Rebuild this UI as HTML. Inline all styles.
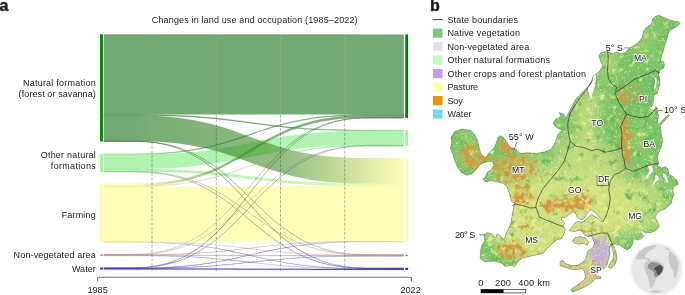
<!DOCTYPE html>
<html lang="en"><head><meta charset="utf-8"><title>Land use change</title>
<style>html,body{margin:0;padding:0;background:#fff}svg{display:block}</style></head>
<body>
<svg width="685" height="295" viewBox="0 0 685 295" font-family='"Liberation Sans", sans-serif' fill="#1a1a1a">
<rect width="685" height="295" fill="#fff"/>
<g id="sankey"><defs><linearGradient id="g4" gradientUnits="userSpaceOnUse" x1="135" x2="403.8" y1="0" y2="0"><stop offset="0" stop-color="rgb(0,100,0)" stop-opacity="0.55"/><stop offset="0.55" stop-color="rgb(64,139,35)" stop-opacity="0.57"/><stop offset="1" stop-color="rgb(255,255,140)" stop-opacity="0.62"/></linearGradient><linearGradient id="s4" gradientUnits="userSpaceOnUse" x1="135" x2="403.8" y1="0" y2="0"><stop offset="0" stop-color="rgb(20,60,20)"/><stop offset="1" stop-color="rgb(190,190,140)"/></linearGradient><linearGradient id="g5" gradientUnits="userSpaceOnUse" x1="135" x2="403.8" y1="0" y2="0"><stop offset="0" stop-color="rgb(144,238,144)" stop-opacity="0.70"/><stop offset="0.55" stop-color="rgb(172,242,143)" stop-opacity="0.68"/><stop offset="1" stop-color="rgb(255,255,140)" stop-opacity="0.62"/></linearGradient><linearGradient id="s5" gradientUnits="userSpaceOnUse" x1="135" x2="403.8" y1="0" y2="0"><stop offset="0" stop-color="rgb(90,150,90)"/><stop offset="1" stop-color="rgb(190,190,140)"/></linearGradient><linearGradient id="g6" gradientUnits="userSpaceOnUse" x1="135" x2="403.8" y1="0" y2="0"><stop offset="0" stop-color="rgb(255,255,140)" stop-opacity="0.62"/><stop offset="0.32" stop-color="rgb(71,143,39)" stop-opacity="0.57"/><stop offset="1" stop-color="rgb(0,100,0)" stop-opacity="0.55"/></linearGradient><linearGradient id="s6" gradientUnits="userSpaceOnUse" x1="135" x2="403.8" y1="0" y2="0"><stop offset="0" stop-color="rgb(190,190,140)"/><stop offset="1" stop-color="rgb(20,60,20)"/></linearGradient><linearGradient id="g7" gradientUnits="userSpaceOnUse" x1="135" x2="403.8" y1="0" y2="0"><stop offset="0" stop-color="rgb(0,100,0)" stop-opacity="0.55"/><stop offset="0.55" stop-color="rgb(36,134,36)" stop-opacity="0.59"/><stop offset="1" stop-color="rgb(144,238,144)" stop-opacity="0.70"/></linearGradient><linearGradient id="s7" gradientUnits="userSpaceOnUse" x1="135" x2="403.8" y1="0" y2="0"><stop offset="0" stop-color="rgb(20,60,20)"/><stop offset="1" stop-color="rgb(90,150,90)"/></linearGradient><linearGradient id="g9" gradientUnits="userSpaceOnUse" x1="135" x2="403.8" y1="0" y2="0"><stop offset="0" stop-color="rgb(144,238,144)" stop-opacity="0.70"/><stop offset="0.32" stop-color="rgb(40,139,40)" stop-opacity="0.59"/><stop offset="1" stop-color="rgb(0,100,0)" stop-opacity="0.55"/></linearGradient><linearGradient id="s9" gradientUnits="userSpaceOnUse" x1="135" x2="403.8" y1="0" y2="0"><stop offset="0" stop-color="rgb(90,150,90)"/><stop offset="1" stop-color="rgb(20,60,20)"/></linearGradient><linearGradient id="g10" gradientUnits="userSpaceOnUse" x1="135" x2="403.8" y1="0" y2="0"><stop offset="0" stop-color="rgb(255,255,140)" stop-opacity="0.62"/><stop offset="0.32" stop-color="rgb(175,243,143)" stop-opacity="0.68"/><stop offset="1" stop-color="rgb(144,238,144)" stop-opacity="0.70"/></linearGradient><linearGradient id="s10" gradientUnits="userSpaceOnUse" x1="135" x2="403.8" y1="0" y2="0"><stop offset="0" stop-color="rgb(190,190,140)"/><stop offset="1" stop-color="rgb(90,150,90)"/></linearGradient><linearGradient id="g11" gradientUnits="userSpaceOnUse" x1="135" x2="403.8" y1="0" y2="0"><stop offset="0" stop-color="rgb(188,143,143)" stop-opacity="0.70"/><stop offset="0.55" stop-color="rgb(205,171,142)" stop-opacity="0.68"/><stop offset="1" stop-color="rgb(255,255,140)" stop-opacity="0.62"/></linearGradient><linearGradient id="s11" gradientUnits="userSpaceOnUse" x1="135" x2="403.8" y1="0" y2="0"><stop offset="0" stop-color="rgb(170,120,120)"/><stop offset="1" stop-color="rgb(190,190,140)"/></linearGradient><linearGradient id="g13" gradientUnits="userSpaceOnUse" x1="135" x2="403.8" y1="0" y2="0"><stop offset="0" stop-color="rgb(255,255,140)" stop-opacity="0.62"/><stop offset="0.32" stop-color="rgb(207,174,142)" stop-opacity="0.68"/><stop offset="1" stop-color="rgb(188,143,143)" stop-opacity="0.70"/></linearGradient><linearGradient id="s13" gradientUnits="userSpaceOnUse" x1="135" x2="403.8" y1="0" y2="0"><stop offset="0" stop-color="rgb(190,190,140)"/><stop offset="1" stop-color="rgb(170,120,120)"/></linearGradient><linearGradient id="g14" gradientUnits="userSpaceOnUse" x1="135" x2="403.8" y1="0" y2="0"><stop offset="0" stop-color="rgb(20,20,200)" stop-opacity="0.70"/><stop offset="0.55" stop-color="rgb(79,79,185)" stop-opacity="0.68"/><stop offset="1" stop-color="rgb(255,255,140)" stop-opacity="0.62"/></linearGradient><linearGradient id="s14" gradientUnits="userSpaceOnUse" x1="135" x2="403.8" y1="0" y2="0"><stop offset="0" stop-color="rgb(40,40,150)"/><stop offset="1" stop-color="rgb(190,190,140)"/></linearGradient><linearGradient id="g15" gradientUnits="userSpaceOnUse" x1="135" x2="403.8" y1="0" y2="0"><stop offset="0" stop-color="rgb(144,238,144)" stop-opacity="0.70"/><stop offset="0.32" stop-color="rgb(176,170,143)" stop-opacity="0.70"/><stop offset="1" stop-color="rgb(188,143,143)" stop-opacity="0.70"/></linearGradient><linearGradient id="s15" gradientUnits="userSpaceOnUse" x1="135" x2="403.8" y1="0" y2="0"><stop offset="0" stop-color="rgb(90,150,90)"/><stop offset="1" stop-color="rgb(170,120,120)"/></linearGradient><linearGradient id="g16" gradientUnits="userSpaceOnUse" x1="135" x2="403.8" y1="0" y2="0"><stop offset="0" stop-color="rgb(144,238,144)" stop-opacity="0.70"/><stop offset="0.32" stop-color="rgb(55,81,184)" stop-opacity="0.70"/><stop offset="1" stop-color="rgb(20,20,200)" stop-opacity="0.70"/></linearGradient><linearGradient id="s16" gradientUnits="userSpaceOnUse" x1="135" x2="403.8" y1="0" y2="0"><stop offset="0" stop-color="rgb(90,150,90)"/><stop offset="1" stop-color="rgb(40,40,150)"/></linearGradient><linearGradient id="g17" gradientUnits="userSpaceOnUse" x1="135" x2="403.8" y1="0" y2="0"><stop offset="0" stop-color="rgb(255,255,140)" stop-opacity="0.62"/><stop offset="0.32" stop-color="rgb(86,86,183)" stop-opacity="0.68"/><stop offset="1" stop-color="rgb(20,20,200)" stop-opacity="0.70"/></linearGradient><linearGradient id="s17" gradientUnits="userSpaceOnUse" x1="135" x2="403.8" y1="0" y2="0"><stop offset="0" stop-color="rgb(190,190,140)"/><stop offset="1" stop-color="rgb(40,40,150)"/></linearGradient><linearGradient id="g18" gradientUnits="userSpaceOnUse" x1="135" x2="403.8" y1="0" y2="0"><stop offset="0" stop-color="rgb(0,100,0)" stop-opacity="0.55"/><stop offset="0.55" stop-color="rgb(47,111,36)" stop-opacity="0.59"/><stop offset="1" stop-color="rgb(188,143,143)" stop-opacity="0.70"/></linearGradient><linearGradient id="s18" gradientUnits="userSpaceOnUse" x1="135" x2="403.8" y1="0" y2="0"><stop offset="0" stop-color="rgb(20,60,20)"/><stop offset="1" stop-color="rgb(170,120,120)"/></linearGradient><linearGradient id="g19" gradientUnits="userSpaceOnUse" x1="135" x2="403.8" y1="0" y2="0"><stop offset="0" stop-color="rgb(0,100,0)" stop-opacity="0.55"/><stop offset="0.50" stop-color="rgb(10,60,100)" stop-opacity="0.62"/><stop offset="1" stop-color="rgb(20,20,200)" stop-opacity="0.70"/></linearGradient><linearGradient id="s19" gradientUnits="userSpaceOnUse" x1="135" x2="403.8" y1="0" y2="0"><stop offset="0" stop-color="rgb(20,60,20)"/><stop offset="1" stop-color="rgb(40,40,150)"/></linearGradient><linearGradient id="g20" gradientUnits="userSpaceOnUse" x1="135" x2="403.8" y1="0" y2="0"><stop offset="0" stop-color="rgb(188,143,143)" stop-opacity="0.70"/><stop offset="0.32" stop-color="rgb(53,112,40)" stop-opacity="0.59"/><stop offset="1" stop-color="rgb(0,100,0)" stop-opacity="0.55"/></linearGradient><linearGradient id="s20" gradientUnits="userSpaceOnUse" x1="135" x2="403.8" y1="0" y2="0"><stop offset="0" stop-color="rgb(170,120,120)"/><stop offset="1" stop-color="rgb(20,60,20)"/></linearGradient><linearGradient id="g21" gradientUnits="userSpaceOnUse" x1="135" x2="403.8" y1="0" y2="0"><stop offset="0" stop-color="rgb(188,143,143)" stop-opacity="0.70"/><stop offset="0.55" stop-color="rgb(177,167,143)" stop-opacity="0.70"/><stop offset="1" stop-color="rgb(144,238,144)" stop-opacity="0.70"/></linearGradient><linearGradient id="s21" gradientUnits="userSpaceOnUse" x1="135" x2="403.8" y1="0" y2="0"><stop offset="0" stop-color="rgb(170,120,120)"/><stop offset="1" stop-color="rgb(90,150,90)"/></linearGradient><linearGradient id="g22" gradientUnits="userSpaceOnUse" x1="135" x2="403.8" y1="0" y2="0"><stop offset="0" stop-color="rgb(188,143,143)" stop-opacity="0.70"/><stop offset="0.32" stop-color="rgb(67,54,184)" stop-opacity="0.70"/><stop offset="1" stop-color="rgb(20,20,200)" stop-opacity="0.70"/></linearGradient><linearGradient id="s22" gradientUnits="userSpaceOnUse" x1="135" x2="403.8" y1="0" y2="0"><stop offset="0" stop-color="rgb(170,120,120)"/><stop offset="1" stop-color="rgb(40,40,150)"/></linearGradient><linearGradient id="g23" gradientUnits="userSpaceOnUse" x1="135" x2="403.8" y1="0" y2="0"><stop offset="0" stop-color="rgb(20,20,200)" stop-opacity="0.70"/><stop offset="0.50" stop-color="rgb(10,60,100)" stop-opacity="0.62"/><stop offset="1" stop-color="rgb(0,100,0)" stop-opacity="0.55"/></linearGradient><linearGradient id="s23" gradientUnits="userSpaceOnUse" x1="135" x2="403.8" y1="0" y2="0"><stop offset="0" stop-color="rgb(40,40,150)"/><stop offset="1" stop-color="rgb(20,60,20)"/></linearGradient><linearGradient id="g24" gradientUnits="userSpaceOnUse" x1="135" x2="403.8" y1="0" y2="0"><stop offset="0" stop-color="rgb(20,20,200)" stop-opacity="0.70"/><stop offset="0.55" stop-color="rgb(51,74,186)" stop-opacity="0.70"/><stop offset="1" stop-color="rgb(144,238,144)" stop-opacity="0.70"/></linearGradient><linearGradient id="s24" gradientUnits="userSpaceOnUse" x1="135" x2="403.8" y1="0" y2="0"><stop offset="0" stop-color="rgb(40,40,150)"/><stop offset="1" stop-color="rgb(90,150,90)"/></linearGradient><linearGradient id="g25" gradientUnits="userSpaceOnUse" x1="135" x2="403.8" y1="0" y2="0"><stop offset="0" stop-color="rgb(20,20,200)" stop-opacity="0.70"/><stop offset="0.55" stop-color="rgb(62,51,186)" stop-opacity="0.70"/><stop offset="1" stop-color="rgb(188,143,143)" stop-opacity="0.70"/></linearGradient><linearGradient id="s25" gradientUnits="userSpaceOnUse" x1="135" x2="403.8" y1="0" y2="0"><stop offset="0" stop-color="rgb(40,40,150)"/><stop offset="1" stop-color="rgb(170,120,120)"/></linearGradient></defs>
<path d="M103.8 34.30 L135 34.30 C250 34.30 250 34.40 365 34.40 L403.8 34.40 L403.8 114.50 L365 114.50 C250 114.50 250 114.40 135 114.40 L103.8 114.40Z" fill="rgb(0,100,0)" fill-opacity="0.55"/>
<path d="M103.8 186.70 L135 186.70 C250 186.70 250 186.10 365 186.10 L403.8 186.10 L403.8 241.10 L365 241.10 C250 241.10 250 241.70 135 241.70 L103.8 241.70Z" fill="rgb(255,255,140)" fill-opacity="0.62"/>
<path d="M103.8 154.60 L135 154.60 C250 154.60 250 130.90 365 130.90 L403.8 130.90 L403.8 145.20 L365 145.20 C250 145.20 250 168.90 135 168.90 L103.8 168.90Z" fill="rgb(144,238,144)" fill-opacity="0.70"/>
<path d="M103.8 115.40 L135 115.40 C250 115.40 250 158.00 365 158.00 L403.8 158.00 L403.8 183.60 L365 183.60 C250 183.60 250 141.00 135 141.00 L103.8 141.00Z" fill="url(#g4)" fill-opacity="1.00" stroke="url(#s4)" stroke-opacity="0.25" stroke-width="0.3"/>
<path d="M103.8 168.90 L135 168.90 C250 168.90 250 183.60 365 183.60 L403.8 183.60 L403.8 186.10 L365 186.10 C250 186.10 250 171.40 135 171.40 L103.8 171.40Z" fill="url(#g5)" fill-opacity="1.00" stroke="url(#s5)" stroke-opacity="0.25" stroke-width="0.3"/>
<path d="M103.8 183.70 L135 183.70 C250 183.70 250 115.30 365 115.30 L403.8 115.30 L403.8 117.80 L365 117.80 C250 117.80 250 186.20 135 186.20 L103.8 186.20Z" fill="url(#g6)" fill-opacity="1.00" stroke="url(#s6)" stroke-opacity="0.25" stroke-width="0.3"/>
<path d="M103.8 114.40 L135 114.40 C250 114.40 250 129.90 365 129.90 L403.8 129.90 L403.8 130.90 L365 130.90 C250 130.90 250 115.40 135 115.40 L103.8 115.40Z" fill="url(#g7)" fill-opacity="1.00" stroke="url(#s7)" stroke-opacity="0.5" stroke-width="0.35"/>
<path d="M103.8 268.55 L135 268.55 C250 268.55 250 268.90 365 268.90 L403.8 268.90 L403.8 269.90 L365 269.90 C250 269.90 250 269.55 135 269.55 L103.8 269.55Z" fill="rgb(20,20,200)" fill-opacity="0.70" stroke="rgb(40,40,150)" stroke-opacity="0.5" stroke-width="0.35"/>
<path d="M103.8 153.80 L135 153.80 C250 153.80 250 114.50 365 114.50 L403.8 114.50 L403.8 115.30 L365 115.30 C250 115.30 250 154.60 135 154.60 L103.8 154.60Z" fill="url(#g9)" fill-opacity="1.00" stroke="url(#s9)" stroke-opacity="0.5" stroke-width="0.35"/>
<path d="M103.8 186.20 L135 186.20 C250 186.20 250 145.20 365 145.20 L403.8 145.20 L403.8 145.70 L365 145.70 C250 145.70 250 186.70 135 186.70 L103.8 186.70Z" fill="url(#g10)" fill-opacity="1.00" stroke="url(#s10)" stroke-opacity="0.5" stroke-width="0.35"/>
<path d="M103.8 254.60 L135 254.60 C250 254.60 250 241.10 365 241.10 L403.8 241.10 L403.8 241.60 L365 241.60 C250 241.60 250 255.10 135 255.10 L103.8 255.10Z" fill="url(#g11)" fill-opacity="1.00" stroke="url(#s11)" stroke-opacity="0.5" stroke-width="0.35"/>
<path d="M103.8 255.10 L135 255.10 C250 255.10 250 255.55 365 255.55 L403.8 255.55 L403.8 256.05 L365 256.05 C250 256.05 250 255.60 135 255.60 L103.8 255.60Z" fill="rgb(188,143,143)" fill-opacity="0.70" stroke="rgb(170,120,120)" stroke-opacity="0.5" stroke-width="0.35"/>
<path d="M103.8 241.70 L135 241.70 C250 241.70 250 255.15 365 255.15 L403.8 255.15 L403.8 255.55 L365 255.55 C250 255.55 250 242.10 135 242.10 L103.8 242.10Z" fill="url(#g13)" fill-opacity="1.00" stroke="url(#s13)" stroke-opacity="0.5" stroke-width="0.35"/>
<path d="M103.8 268.00 L135 268.00 C250 268.00 250 241.60 365 241.60 L403.8 241.60 L403.8 242.00 L365 242.00 C250 242.00 250 268.40 135 268.40 L103.8 268.40Z" fill="url(#g14)" fill-opacity="1.00" stroke="url(#s14)" stroke-opacity="0.5" stroke-width="0.35"/>
<path d="M103.8 171.40 L135 171.40 C250 171.40 250 254.85 365 254.85 L403.8 254.85 L403.8 255.15 L365 255.15 C250 255.15 250 171.70 135 171.70 L103.8 171.70Z" fill="url(#g15)" fill-opacity="1.00" stroke="url(#s15)" stroke-opacity="0.5" stroke-width="0.35"/>
<path d="M103.8 171.70 L135 171.70 C250 171.70 250 268.15 365 268.15 L403.8 268.15 L403.8 268.45 L365 268.45 C250 268.45 250 172.00 135 172.00 L103.8 172.00Z" fill="url(#g16)" fill-opacity="1.00" stroke="url(#s16)" stroke-opacity="0.5" stroke-width="0.35"/>
<path d="M103.8 242.10 L135 242.10 C250 242.10 250 268.45 365 268.45 L403.8 268.45 L403.8 268.75 L365 268.75 C250 268.75 250 242.40 135 242.40 L103.8 242.40Z" fill="url(#g17)" fill-opacity="1.00" stroke="url(#s17)" stroke-opacity="0.5" stroke-width="0.35"/>
<path d="M103.8 141.00 L135 141.00 C250 141.00 250 254.60 365 254.60 L403.8 254.60 L403.8 254.85 L365 254.85 C250 254.85 250 141.25 135 141.25 L103.8 141.25Z" fill="url(#g18)" fill-opacity="1.00" stroke="url(#s18)" stroke-opacity="0.5" stroke-width="0.35"/>
<path d="M103.8 141.25 L135 141.25 C250 141.25 250 267.90 365 267.90 L403.8 267.90 L403.8 268.15 L365 268.15 C250 268.15 250 141.50 135 141.50 L103.8 141.50Z" fill="url(#g19)" fill-opacity="1.00" stroke="url(#s19)" stroke-opacity="0.5" stroke-width="0.35"/>
<path d="M103.8 254.30 L135 254.30 C250 254.30 250 117.80 365 117.80 L403.8 117.80 L403.8 117.95 L365 117.95 C250 117.95 250 254.45 135 254.45 L103.8 254.45Z" fill="url(#g20)" fill-opacity="1.00" stroke="url(#s20)" stroke-opacity="0.5" stroke-width="0.35"/>
<path d="M103.8 254.45 L135 254.45 C250 254.45 250 145.70 365 145.70 L403.8 145.70 L403.8 145.85 L365 145.85 C250 145.85 250 254.60 135 254.60 L103.8 254.60Z" fill="url(#g21)" fill-opacity="1.00" stroke="url(#s21)" stroke-opacity="0.5" stroke-width="0.35"/>
<path d="M103.8 255.60 L135 255.60 C250 255.60 250 268.75 365 268.75 L403.8 268.75 L403.8 268.90 L365 268.90 C250 268.90 250 255.75 135 255.75 L103.8 255.75Z" fill="url(#g22)" fill-opacity="1.00" stroke="url(#s22)" stroke-opacity="0.5" stroke-width="0.35"/>
<path d="M103.8 267.70 L135 267.70 C250 267.70 250 117.95 365 117.95 L403.8 117.95 L403.8 118.10 L365 118.10 C250 118.10 250 267.85 135 267.85 L103.8 267.85Z" fill="url(#g23)" fill-opacity="1.00" stroke="url(#s23)" stroke-opacity="0.5" stroke-width="0.35"/>
<path d="M103.8 267.85 L135 267.85 C250 267.85 250 145.85 365 145.85 L403.8 145.85 L403.8 146.00 L365 146.00 C250 146.00 250 268.00 135 268.00 L103.8 268.00Z" fill="url(#g24)" fill-opacity="1.00" stroke="url(#s24)" stroke-opacity="0.5" stroke-width="0.35"/>
<path d="M103.8 268.40 L135 268.40 C250 268.40 250 256.05 365 256.05 L403.8 256.05 L403.8 256.20 L365 256.20 C250 256.20 250 268.55 135 268.55 L103.8 268.55Z" fill="url(#g25)" fill-opacity="1.00" stroke="url(#s25)" stroke-opacity="0.5" stroke-width="0.35"/>
<line x1="152" x2="152" y1="141.5" y2="272" stroke="#444" stroke-opacity="0.8" stroke-width="0.5" stroke-dasharray="3 1.5"/>
<line x1="152" x2="152" y1="34.5" y2="141.5" stroke="#fff" stroke-opacity="0.12" stroke-width="0.5"/>
<line x1="216.3" x2="216.3" y1="114.8" y2="272" stroke="#444" stroke-opacity="0.8" stroke-width="0.5" stroke-dasharray="3 1.5"/>
<line x1="216.3" x2="216.3" y1="34.5" y2="114.8" stroke="#fff" stroke-opacity="0.12" stroke-width="0.5"/>
<line x1="280.5" x2="280.5" y1="114.8" y2="272" stroke="#444" stroke-opacity="0.8" stroke-width="0.5" stroke-dasharray="3 1.5"/>
<line x1="280.5" x2="280.5" y1="34.5" y2="114.8" stroke="#fff" stroke-opacity="0.12" stroke-width="0.5"/>
<line x1="344.7" x2="344.7" y1="114.8" y2="272" stroke="#444" stroke-opacity="0.8" stroke-width="0.5" stroke-dasharray="3 1.5"/>
<line x1="344.7" x2="344.7" y1="34.5" y2="114.8" stroke="#fff" stroke-opacity="0.12" stroke-width="0.5"/>
<rect x="100.1" y="34.30" width="2.8" height="107.20" fill="rgb(0,128,0)"/>
<rect x="405.3" y="34.40" width="2.8" height="83.70" fill="rgb(0,128,0)"/>
<rect x="100.1" y="153.80" width="2.8" height="18.20" fill="rgb(160,240,160)"/>
<rect x="405.3" y="129.90" width="2.8" height="16.10" fill="rgb(160,240,160)"/>
<rect x="100.1" y="183.70" width="2.8" height="58.70" fill="rgb(255,255,160)"/>
<rect x="405.3" y="158.00" width="2.8" height="84.00" fill="rgb(255,255,160)"/>
<rect x="100.1" y="254.30" width="2.8" height="1.45" fill="rgb(190,130,130)"/>
<rect x="405.3" y="254.60" width="2.8" height="1.60" fill="rgb(190,130,130)"/>
<rect x="100.1" y="267.70" width="2.8" height="1.85" fill="rgb(30,30,200)"/>
<rect x="405.3" y="267.90" width="2.8" height="2.00" fill="rgb(30,30,200)"/>
<path d="M97.6 281.3V277.3H411.5V281.3" fill="none" stroke="#333" stroke-width="0.7"/></g>
<defs><clipPath id="biome"><path d="M651.4 24.3 L652.5 19.2 L655.5 16.2 L658.6 15.2 L662.6 16.8 L667.7 19.2 L674.8 21.3 L678.9 21.7 L680.3 23.3 L676.9 26.4 L673.8 28.4 L669.7 30.4 L668.1 34.5 L666.7 40.6 L664.7 44.7 L663.6 50.8 L661.6 55.8 L660.6 61.9 L662.6 61.1 L664.7 64.2 L663.6 68.2 L659.6 70.3 L658.6 74.3 L659.6 77.4 L660.0 83.5 L658.6 88.6 L657.1 93.6 L653.5 95.7 L653.5 100.8 L652.5 105.8 L649.4 107.9 L651.4 110.3 L654.5 109.9 L655.9 106.4 L657.4 108.0 L657.6 112.2 L658.6 116.1 L657.5 122.2 L658.6 124.2 L668.3 114.8 L669.3 115.7 L660.0 126.0 L660.6 127.3 L661.2 134.4 L662.6 140.5 L661.6 146.6 L659.6 150.7 L657.5 156.8 L658.6 162.9 L657.5 165.9 L661.6 168.1 L665.7 166.5 L668.1 169.2 L668.7 174.2 L672.8 176.3 L676.9 180.3 L678.3 184.4 L673.8 186.4 L672.8 190.5 L673.8 195.6 L671.8 199.7 L671.7 203.1 L668.2 206.2 L665.1 209.2 L661.1 210.3 L657.0 213.3 L655.0 217.4 L658.0 222.5 L659.0 226.6 L656.0 230.6 L650.9 232.7 L645.8 232.7 L641.7 230.6 L639.7 231.6 L643.8 235.7 L641.7 238.8 L637.7 239.8 L633.6 238.8 L632.6 243.9 L630.5 247.9 L627.5 250.0 L623.4 247.9 L619.3 244.9 L615.3 243.9 L612.5 244.7 L610.9 244.2 L609.5 249.2 L609.9 254.3 L608.3 259.4 L606.9 265.5 L603.8 268.6 L598.7 267.8 L596.0 266.5 L594.7 271.6 L595.7 275.7 L600.8 276.7 L600.8 278.7 L595.7 278.7 L592.6 281.8 L588.6 284.8 L583.5 287.5 L577.4 290.3 L572.3 291.9 L570.9 289.5 L574.3 286.9 L579.4 283.8 L583.5 280.8 L585.5 276.7 L584.5 271.6 L582.5 268.6 L577.4 269.6 L571.3 269.2 L565.2 267.5 L560.1 265.5 L560.1 261.4 L563.1 260.4 L565.2 263.5 L571.3 265.5 L577.4 265.5 L582.5 262.5 L585.5 259.4 L586.5 256.4 L587.5 251.3 L592.6 248.2 L594.7 243.1 L591.6 236.5 L591.4 235.6 L588.1 236.4 L584.5 235.0 L582.9 232.5 L580.2 230.0 L574.8 231.5 L569.3 230.8 L572.1 227.1 L574.8 223.1 L577.5 221.4 L581.6 222.2 L585.6 220.0 L588.9 216.9 L591.4 214.6 L594.0 216.1 L597.4 217.8 L601.0 221.3 L603.0 221.6 L601.6 219.8 L598.2 216.1 L594.8 211.9 L591.4 209.8 L588.9 211.0 L586.4 214.4 L584.3 218.0 L582.2 220.0 L579.5 218.8 L576.8 217.0 L575.5 212.9 L572.7 211.9 L569.3 214.2 L565.3 217.6 L561.5 217.0 L561.9 220.4 L564.6 223.1 L563.2 226.5 L565.5 229.2 L563.9 233.9 L561.5 238.5 L556.7 240.0 L551.3 244.5 L547.2 248.5 L543.0 253.5 L532.3 255.7 L521.5 258.4 L517.4 262.4 L514.7 266.5 L511.1 265.2 L505.2 266.5 L501.1 263.0 L494.3 261.1 L484.8 261.9 L480.2 258.4 L480.7 250.2 L482.1 244.8 L484.8 240.7 L484.0 234.8 L487.5 232.6 L491.6 233.9 L495.7 238.0 L497.0 233.9 L499.7 235.3 L503.8 239.4 L506.5 232.6 L510.6 224.4 L512.0 216.3 L513.3 209.5 L514.7 203.0 L512.5 202.0 L511.4 200.9 L509.5 194.2 L507.4 187.4 L503.3 183.3 L497.9 182.0 L491.1 180.6 L485.7 182.0 L483.0 179.2 L485.7 176.5 L487.0 172.5 L491.1 169.7 L493.8 165.7 L492.5 161.6 L488.4 161.6 L483.0 163.0 L478.9 165.7 L476.2 169.7 L472.1 173.8 L466.7 175.2 L461.3 172.5 L457.2 167.0 L454.5 160.3 L452.6 153.5 L450.4 148.1 L451.8 142.6 L451.0 137.2 L454.5 131.8 L461.3 129.1 L470.8 130.4 L474.8 134.5 L477.5 139.9 L478.9 146.7 L480.3 152.1 L483.0 156.2 L485.7 157.5 L489.7 152.1 L493.8 148.1 L496.5 142.6 L497.9 137.2 L500.6 135.8 L503.3 137.2 L506.0 141.3 L508.7 145.3 L511.4 148.1 L513.1 147.9 L515.8 149.2 L519.9 153.3 L528.0 152.8 L536.2 153.3 L544.3 152.0 L551.1 149.2 L555.2 142.4 L557.9 134.3 L562.0 130.2 L556.5 127.5 L553.0 123.4 L555.2 119.4 L561.1 116.7 L559.2 112.6 L563.3 114.0 L566.0 118.0 L570.0 110.0 L575.0 100.0 L586.4 88.1 L591.0 84.0 L593.0 76.0 L596.8 73.6 L599.8 70.5 L602.9 65.9 L600.7 61.4 L598.9 55.3 L601.4 52.2 L607.5 51.6 L612.0 53.7 L616.6 52.2 L621.2 53.7 L625.0 52.8 L630.1 47.7 L634.2 45.7 L638.2 42.6 L642.3 37.5 L643.3 31.4 L646.4 27.4ZM572.3 241.1 L575.3 237.4 L580.4 236.6 L585.5 238.1 L588.6 242.1 L587.5 245.2 L583.5 243.5 L578.4 244.2 L574.3 243.1ZM610.9 244.2 L614.0 246.2 L616.0 252.3 L617.0 258.4 L615.0 264.5 L610.9 268.6 L608.3 267.5 L609.9 263.5 L613.0 259.4 L613.6 254.3 L612.4 249.2Z"/></clipPath>
<filter id="fPast" filterUnits="userSpaceOnUse" x="440" y="0" width="245" height="295" color-interpolation-filters="sRGB"><feGaussianBlur in="SourceGraphic" stdDeviation="5" result="d"/><feTurbulence type="fractalNoise" baseFrequency="0.16" numOctaves="4" seed="7" result="n"/><feColorMatrix in="n" type="matrix" values="0 0 0 0 0  0 0 0 0 0  0 0 0 0 0  1 0 0 0 0" result="na"/><feComposite in="na" in2="d" operator="arithmetic" k1="0" k2="1" k3="1" k4="-1" result="s"/><feComponentTransfer in="s" result="m"><feFuncA type="linear" slope="4" intercept="0"/></feComponentTransfer><feFlood flood-color="#e4ec8a" result="c"/><feComposite in="c" in2="m" operator="in" result="o"/><feGaussianBlur in="o" stdDeviation="0.45"/></filter>
<filter id="fPast2" filterUnits="userSpaceOnUse" x="440" y="0" width="245" height="295" color-interpolation-filters="sRGB"><feGaussianBlur in="SourceGraphic" stdDeviation="6" result="d"/><feTurbulence type="fractalNoise" baseFrequency="0.45" numOctaves="2" seed="21" result="n"/><feColorMatrix in="n" type="matrix" values="0 0 0 0 0  0 0 0 0 0  0 0 0 0 0  1 0 0 0 0" result="na"/><feComposite in="na" in2="d" operator="arithmetic" k1="0" k2="1" k3="1" k4="-1" result="s"/><feComponentTransfer in="s" result="m"><feFuncA type="linear" slope="5" intercept="0"/></feComponentTransfer><feFlood flood-color="#dde98a" result="c"/><feComposite in="c" in2="m" operator="in" result="o"/><feGaussianBlur in="o" stdDeviation="0.45"/></filter>
<filter id="fSoy" filterUnits="userSpaceOnUse" x="440" y="0" width="245" height="295" color-interpolation-filters="sRGB"><feGaussianBlur in="SourceGraphic" stdDeviation="3" result="d"/><feTurbulence type="fractalNoise" baseFrequency="0.2" numOctaves="4" seed="3" result="n"/><feColorMatrix in="n" type="matrix" values="0 0 0 0 0  0 0 0 0 0  0 0 0 0 0  1 0 0 0 0" result="na"/><feComposite in="na" in2="d" operator="arithmetic" k1="0" k2="1" k3="1" k4="-1" result="s"/><feComponentTransfer in="s" result="m"><feFuncA type="linear" slope="4.5" intercept="0"/></feComponentTransfer><feFlood flood-color="#d29a3e" result="c"/><feComposite in="c" in2="m" operator="in" result="o"/><feGaussianBlur in="o" stdDeviation="0.45"/></filter>
<filter id="fPur" filterUnits="userSpaceOnUse" x="440" y="0" width="245" height="295" color-interpolation-filters="sRGB"><feGaussianBlur in="SourceGraphic" stdDeviation="3" result="d"/><feTurbulence type="fractalNoise" baseFrequency="0.28" numOctaves="3" seed="11" result="n"/><feColorMatrix in="n" type="matrix" values="0 0 0 0 0  0 0 0 0 0  0 0 0 0 0  1 0 0 0 0" result="na"/><feComposite in="na" in2="d" operator="arithmetic" k1="0" k2="1" k3="1" k4="-1" result="s"/><feComponentTransfer in="s" result="m"><feFuncA type="linear" slope="6" intercept="0"/></feComponentTransfer><feFlood flood-color="#c9a9d6" result="c"/><feComposite in="c" in2="m" operator="in" result="o"/><feGaussianBlur in="o" stdDeviation="0.45"/></filter>
<filter id="fDark" filterUnits="userSpaceOnUse" x="440" y="0" width="245" height="295" color-interpolation-filters="sRGB"><feGaussianBlur in="SourceGraphic" stdDeviation="6" result="d"/><feTurbulence type="fractalNoise" baseFrequency="0.12" numOctaves="4" seed="5" result="n"/><feColorMatrix in="n" type="matrix" values="0 0 0 0 0  0 0 0 0 0  0 0 0 0 0  1 0 0 0 0" result="na"/><feComposite in="na" in2="d" operator="arithmetic" k1="0" k2="1" k3="1" k4="-1" result="s"/><feComponentTransfer in="s" result="m"><feFuncA type="linear" slope="4" intercept="0"/></feComponentTransfer><feFlood flood-color="#64b65b" result="c"/><feComposite in="c" in2="m" operator="in" result="o"/><feGaussianBlur in="o" stdDeviation="0.45"/></filter>
<filter id="fLite" filterUnits="userSpaceOnUse" x="440" y="0" width="245" height="295" color-interpolation-filters="sRGB"><feGaussianBlur in="SourceGraphic" stdDeviation="5" result="d"/><feTurbulence type="fractalNoise" baseFrequency="0.35" numOctaves="3" seed="17" result="n"/><feColorMatrix in="n" type="matrix" values="0 0 0 0 0  0 0 0 0 0  0 0 0 0 0  1 0 0 0 0" result="na"/><feComposite in="na" in2="d" operator="arithmetic" k1="0" k2="1" k3="1" k4="-1" result="s"/><feComponentTransfer in="s" result="m"><feFuncA type="linear" slope="6" intercept="0"/></feComponentTransfer><feFlood flood-color="#c9f2b8" result="c"/><feComposite in="c" in2="m" operator="in" result="o"/><feGaussianBlur in="o" stdDeviation="0.45"/></filter>
<filter id="fWash" filterUnits="userSpaceOnUse" x="440" y="0" width="245" height="295"><feGaussianBlur stdDeviation="7"/></filter>
<filter id="fWash2" filterUnits="userSpaceOnUse" x="440" y="0" width="245" height="295"><feGaussianBlur stdDeviation="1.3"/></filter>
<filter id="fWash3" filterUnits="userSpaceOnUse" x="440" y="0" width="245" height="295"><feGaussianBlur stdDeviation="3"/></filter>
<filter id="gshadow" x="-20%" y="-20%" width="140%" height="140%"><feGaussianBlur stdDeviation="1.6"/></filter>
</defs>
<g id="map">
<g clip-path="url(#biome)">
<rect x="440" y="0" width="245" height="295" fill="#77c268"/>
<g filter="url(#fWash)" fill="#d2e283"><ellipse cx="548" cy="222" rx="62" ry="42" fill-opacity="0.95"/><ellipse cx="600" cy="205" rx="45" ry="32" fill-opacity="0.85"/><ellipse cx="530" cy="185" rx="35" ry="30" fill-opacity="0.60"/><ellipse cx="638" cy="205" rx="34" ry="30" fill-opacity="0.60"/><ellipse cx="588" cy="168" rx="34" ry="30" fill-opacity="0.75"/><ellipse cx="585" cy="255" rx="25" ry="35" fill-opacity="0.80"/><ellipse cx="608" cy="64" rx="8" ry="14" fill-opacity="0.75" transform="rotate(10 608 64)"/><ellipse cx="586" cy="118" rx="11" ry="28" fill-opacity="0.80"/><ellipse cx="644" cy="48" rx="9" ry="7" fill-opacity="0.50" transform="rotate(-30 644 48)"/><ellipse cx="470" cy="150" rx="15" ry="18" fill-opacity="0.30"/><ellipse cx="560" cy="140" rx="12" ry="14" fill-opacity="0.40"/><ellipse cx="641" cy="140" rx="7" ry="25" fill-opacity="0.35"/><ellipse cx="645" cy="30" rx="10" ry="10" fill-opacity="0.30"/><ellipse cx="600" cy="100" rx="6" ry="14" fill-opacity="0.50"/></g>
<g filter="url(#fWash2)" fill="#dcc48e" fill-opacity="0.85"><path d="M572.3 241.1 L575.3 237.4 L580.4 236.6 L585.5 238.1 L588.6 242.1 L587.5 245.2 L583.5 243.5 L578.4 244.2 L574.3 243.1Z"/><path d="M610.9 244.2 L614.0 246.2 L616.0 252.3 L617.0 258.4 L615.0 264.5 L610.9 268.6 L608.3 267.5 L609.9 263.5 L613.0 259.4 L613.6 254.3 L612.4 249.2Z"/><path d="M560.1 261.4 L565.2 263.5 L577.4 265.5 L585.5 259.4 L588.0 262.0 L596.0 266.5 L600.8 277.7 L592.6 281.8 L577.4 290.3 L570.9 289.5 L583.5 280.8 L584.5 271.6 L577.4 269.6 L560.1 265.5Z"/></g>
<g filter="url(#fWash2)" fill="#cdb9d3" fill-opacity="0.8"><path d="M593.0 238.0 L608.0 237.0 L609.5 249.0 L607.0 264.0 L602.0 267.5 L596.0 265.0 L589.0 259.0 L588.5 252.0 L594.0 247.0Z"/></g>
<g filter="url(#fWash3)" fill="#d6a850"><ellipse cx="514" cy="168" rx="22" ry="16" fill-opacity="0.40"/><ellipse cx="521" cy="196" rx="13" ry="9" fill-opacity="0.35"/><ellipse cx="473" cy="157" rx="12" ry="13" fill-opacity="0.40" transform="rotate(-30 473 157)"/><ellipse cx="508" cy="144" rx="6" ry="9" fill-opacity="0.50"/><ellipse cx="568" cy="204" rx="26" ry="7" fill-opacity="0.40"/><ellipse cx="625.8" cy="138" rx="4" ry="24" fill-opacity="0.50"/><ellipse cx="512" cy="250" rx="14" ry="9" fill-opacity="0.35"/></g>
<g filter="url(#fDark)" fill="#000"><rect x="440" y="0" width="245" height="295" fill-opacity="0.36"/><ellipse cx="645" cy="70" rx="25" ry="40" fill-opacity="0.20"/><ellipse cx="610" cy="135" rx="15" ry="25" fill-opacity="0.20"/><ellipse cx="650" cy="190" rx="25" ry="30" fill-opacity="0.15"/><ellipse cx="645" cy="135" rx="18" ry="30" fill-opacity="0.15"/><ellipse cx="462" cy="142" rx="12" ry="12" fill-opacity="0.20"/><ellipse cx="560" cy="160" rx="20" ry="30" fill-opacity="0.10"/><ellipse cx="545" cy="225" rx="50" ry="40" fill-opacity="0.08"/></g>
<g filter="url(#fPast)" fill="#000"><rect x="440" y="0" width="245" height="295" fill-opacity="0.4"/><ellipse cx="560" cy="215" rx="70" ry="50" fill-opacity="0.10"/><ellipse cx="520" cy="240" rx="40" ry="30" fill-opacity="0.10"/><ellipse cx="610" cy="215" rx="45" ry="30" fill-opacity="0.08"/><ellipse cx="615" cy="68" rx="8" ry="24" fill-opacity="0.12" transform="rotate(25 615 68)"/><ellipse cx="592" cy="115" rx="15" ry="28" fill-opacity="0.10"/><ellipse cx="640" cy="45" rx="15" ry="15" fill-opacity="0.08"/></g>
<g filter="url(#fPast2)" fill="#000"><rect x="440" y="0" width="245" height="295" fill-opacity="0.38"/><ellipse cx="560" cy="225" rx="80" ry="55" fill-opacity="0.08"/><ellipse cx="630" cy="215" rx="40" ry="25" fill-opacity="0.06"/></g>
<g filter="url(#fLite)" fill="#000"><rect x="440" y="0" width="245" height="295" fill-opacity="0.26"/><ellipse cx="600" cy="115" rx="25" ry="35" fill-opacity="0.08"/><ellipse cx="650" cy="185" rx="25" ry="25" fill-opacity="0.10"/><ellipse cx="603" cy="180" rx="8" ry="7" fill-opacity="0.30"/></g>
<g filter="url(#fSoy)" fill="#000"><rect x="440" y="0" width="245" height="295" fill-opacity="0.2"/><ellipse cx="514" cy="168" rx="22" ry="16" fill-opacity="0.50"/><ellipse cx="540" cy="172" rx="10" ry="10" fill-opacity="0.30"/><ellipse cx="508" cy="144" rx="7" ry="10" fill-opacity="0.80"/><ellipse cx="521" cy="196" rx="15" ry="11" fill-opacity="0.50"/><ellipse cx="471" cy="157" rx="11" ry="15" fill-opacity="0.55" transform="rotate(-25 471 157)"/><ellipse cx="487" cy="160" rx="8" ry="4" fill-opacity="0.70"/><ellipse cx="568" cy="204" rx="27" ry="8" fill-opacity="0.60"/><ellipse cx="586" cy="194" rx="12" ry="8" fill-opacity="0.30"/><ellipse cx="547" cy="207" rx="9" ry="7" fill-opacity="0.45"/><ellipse cx="625.8" cy="136" rx="5.5" ry="23" fill-opacity="0.72"/><ellipse cx="627" cy="163" rx="5" ry="12" fill-opacity="0.55"/><ellipse cx="512" cy="250" rx="17" ry="11" fill-opacity="0.52"/><ellipse cx="525" cy="226" rx="16" ry="12" fill-opacity="0.35"/><ellipse cx="500" cy="212" rx="9" ry="9" fill-opacity="0.35"/><ellipse cx="590" cy="228" rx="17" ry="7" fill-opacity="0.40"/><ellipse cx="630" cy="92" rx="15" ry="13" fill-opacity="0.38"/><ellipse cx="620" cy="103" rx="9" ry="11" fill-opacity="0.36"/><ellipse cx="600" cy="110" rx="12" ry="20" fill-opacity="0.12"/><ellipse cx="605" cy="160" rx="15" ry="8" fill-opacity="0.28"/><ellipse cx="575" cy="280" rx="14" ry="5" fill-opacity="0.60" transform="rotate(-32 575 280)"/><ellipse cx="573" cy="264" rx="13" ry="3" fill-opacity="0.60" transform="rotate(15 573 264)"/><ellipse cx="580" cy="241" rx="6" ry="4" fill-opacity="0.50"/><ellipse cx="614" cy="257" rx="3" ry="11" fill-opacity="0.60"/><ellipse cx="640" cy="180" rx="15" ry="10" fill-opacity="0.15"/><ellipse cx="560" cy="235" rx="15" ry="10" fill-opacity="0.20"/></g>
<g filter="url(#fPur)" fill="#000"><rect x="440" y="0" width="245" height="295" fill-opacity="0.2"/><ellipse cx="600" cy="252" rx="11" ry="15" fill-opacity="0.55"/><ellipse cx="595" cy="232" rx="20" ry="8" fill-opacity="0.25"/><ellipse cx="580" cy="215" rx="25" ry="10" fill-opacity="0.15"/><ellipse cx="545" cy="240" rx="20" ry="12" fill-opacity="0.12"/><ellipse cx="622" cy="150" rx="3" ry="12" fill-opacity="0.30"/><ellipse cx="585" cy="270" rx="12" ry="10" fill-opacity="0.20"/></g>
<path d="M648.4 165.1 L652.5 166.1 L653.5 171.2 L650.4 174.2 L646.4 179.3 L644.9 178.3 L647.8 173.8 L649.4 170.2 L647.4 167.1Z" fill="#fff" stroke="#3c4a36" stroke-opacity="0.6" stroke-width="0.4"/>
<path d="M655.5 174.2 L658.6 176.3 L659.6 181.4 L657.5 180.3 L655.5 182.4 L653.5 185.4 L652.5 184.0 L654.5 179.3Z" fill="#fff" stroke="#3c4a36" stroke-opacity="0.6" stroke-width="0.4"/>
<path d="M662.6 172.2 L665.7 174.2 L668.1 179.3 L668.7 183.4 L665.7 182.4 L664.7 178.3 L662.6 176.3Z" fill="#fff" stroke="#3c4a36" stroke-opacity="0.6" stroke-width="0.4"/>
<path d="M655.0 76.0 L657.0 80.0 L656.5 86.0 L654.5 91.0 L653.8 88.0 L654.8 82.0 L654.0 78.0Z" fill="#fff" stroke="#3c4a36" stroke-opacity="0.6" stroke-width="0.4"/>
<path d="M587.2 87.3 L590.8 84.2 L593.3 76.0 L594.3 68.5 L596.3 70.0 L596.0 80.0 L595.0 87.1 L592.7 94.2 L591.0 101.8 L589.8 97.8 L588.2 92.0Z" fill="#fff" stroke="#3c4a36" stroke-opacity="0.6" stroke-width="0.4"/>
</g>
<path d="M651.4 24.3 L652.5 19.2 L655.5 16.2 L658.6 15.2 L662.6 16.8 L667.7 19.2 L674.8 21.3 L678.9 21.7 L680.3 23.3 L676.9 26.4 L673.8 28.4 L669.7 30.4 L668.1 34.5 L666.7 40.6 L664.7 44.7 L663.6 50.8 L661.6 55.8 L660.6 61.9 L662.6 61.1 L664.7 64.2 L663.6 68.2 L659.6 70.3 L658.6 74.3 L659.6 77.4 L660.0 83.5 L658.6 88.6 L657.1 93.6 L653.5 95.7 L653.5 100.8 L652.5 105.8 L649.4 107.9 L651.4 110.3 L654.5 109.9 L655.9 106.4 L657.4 108.0 L657.6 112.2 L658.6 116.1 L657.5 122.2 L658.6 124.2 L668.3 114.8 L669.3 115.7 L660.0 126.0 L660.6 127.3 L661.2 134.4 L662.6 140.5 L661.6 146.6 L659.6 150.7 L657.5 156.8 L658.6 162.9 L657.5 165.9 L661.6 168.1 L665.7 166.5 L668.1 169.2 L668.7 174.2 L672.8 176.3 L676.9 180.3 L678.3 184.4 L673.8 186.4 L672.8 190.5 L673.8 195.6 L671.8 199.7 L671.7 203.1 L668.2 206.2 L665.1 209.2 L661.1 210.3 L657.0 213.3 L655.0 217.4 L658.0 222.5 L659.0 226.6 L656.0 230.6 L650.9 232.7 L645.8 232.7 L641.7 230.6 L639.7 231.6 L643.8 235.7 L641.7 238.8 L637.7 239.8 L633.6 238.8 L632.6 243.9 L630.5 247.9 L627.5 250.0 L623.4 247.9 L619.3 244.9 L615.3 243.9 L612.5 244.7 L610.9 244.2 L609.5 249.2 L609.9 254.3 L608.3 259.4 L606.9 265.5 L603.8 268.6 L598.7 267.8 L596.0 266.5 L594.7 271.6 L595.7 275.7 L600.8 276.7 L600.8 278.7 L595.7 278.7 L592.6 281.8 L588.6 284.8 L583.5 287.5 L577.4 290.3 L572.3 291.9 L570.9 289.5 L574.3 286.9 L579.4 283.8 L583.5 280.8 L585.5 276.7 L584.5 271.6 L582.5 268.6 L577.4 269.6 L571.3 269.2 L565.2 267.5 L560.1 265.5 L560.1 261.4 L563.1 260.4 L565.2 263.5 L571.3 265.5 L577.4 265.5 L582.5 262.5 L585.5 259.4 L586.5 256.4 L587.5 251.3 L592.6 248.2 L594.7 243.1 L591.6 236.5 L591.4 235.6 L588.1 236.4 L584.5 235.0 L582.9 232.5 L580.2 230.0 L574.8 231.5 L569.3 230.8 L572.1 227.1 L574.8 223.1 L577.5 221.4 L581.6 222.2 L585.6 220.0 L588.9 216.9 L591.4 214.6 L594.0 216.1 L597.4 217.8 L601.0 221.3 L603.0 221.6 L601.6 219.8 L598.2 216.1 L594.8 211.9 L591.4 209.8 L588.9 211.0 L586.4 214.4 L584.3 218.0 L582.2 220.0 L579.5 218.8 L576.8 217.0 L575.5 212.9 L572.7 211.9 L569.3 214.2 L565.3 217.6 L561.5 217.0 L561.9 220.4 L564.6 223.1 L563.2 226.5 L565.5 229.2 L563.9 233.9 L561.5 238.5 L556.7 240.0 L551.3 244.5 L547.2 248.5 L543.0 253.5 L532.3 255.7 L521.5 258.4 L517.4 262.4 L514.7 266.5 L511.1 265.2 L505.2 266.5 L501.1 263.0 L494.3 261.1 L484.8 261.9 L480.2 258.4 L480.7 250.2 L482.1 244.8 L484.8 240.7 L484.0 234.8 L487.5 232.6 L491.6 233.9 L495.7 238.0 L497.0 233.9 L499.7 235.3 L503.8 239.4 L506.5 232.6 L510.6 224.4 L512.0 216.3 L513.3 209.5 L514.7 203.0 L512.5 202.0 L511.4 200.9 L509.5 194.2 L507.4 187.4 L503.3 183.3 L497.9 182.0 L491.1 180.6 L485.7 182.0 L483.0 179.2 L485.7 176.5 L487.0 172.5 L491.1 169.7 L493.8 165.7 L492.5 161.6 L488.4 161.6 L483.0 163.0 L478.9 165.7 L476.2 169.7 L472.1 173.8 L466.7 175.2 L461.3 172.5 L457.2 167.0 L454.5 160.3 L452.6 153.5 L450.4 148.1 L451.8 142.6 L451.0 137.2 L454.5 131.8 L461.3 129.1 L470.8 130.4 L474.8 134.5 L477.5 139.9 L478.9 146.7 L480.3 152.1 L483.0 156.2 L485.7 157.5 L489.7 152.1 L493.8 148.1 L496.5 142.6 L497.9 137.2 L500.6 135.8 L503.3 137.2 L506.0 141.3 L508.7 145.3 L511.4 148.1 L513.1 147.9 L515.8 149.2 L519.9 153.3 L528.0 152.8 L536.2 153.3 L544.3 152.0 L551.1 149.2 L555.2 142.4 L557.9 134.3 L562.0 130.2 L556.5 127.5 L553.0 123.4 L555.2 119.4 L561.1 116.7 L559.2 112.6 L563.3 114.0 L566.0 118.0 L570.0 110.0 L575.0 100.0 L586.4 88.1 L591.0 84.0 L593.0 76.0 L596.8 73.6 L599.8 70.5 L602.9 65.9 L600.7 61.4 L598.9 55.3 L601.4 52.2 L607.5 51.6 L612.0 53.7 L616.6 52.2 L621.2 53.7 L625.0 52.8 L630.1 47.7 L634.2 45.7 L638.2 42.6 L642.3 37.5 L643.3 31.4 L646.4 27.4ZM572.3 241.1 L575.3 237.4 L580.4 236.6 L585.5 238.1 L588.6 242.1 L587.5 245.2 L583.5 243.5 L578.4 244.2 L574.3 243.1ZM610.9 244.2 L614.0 246.2 L616.0 252.3 L617.0 258.4 L615.0 264.5 L610.9 268.6 L608.3 267.5 L609.9 263.5 L613.0 259.4 L613.6 254.3 L612.4 249.2Z" fill="none" stroke="#3c4a36" stroke-opacity="0.7" stroke-width="0.5" stroke-linejoin="round"/>
<path d="M570.2 141.5 L567.2 152.2 L564.1 161.4 L558.0 170.5 L550.4 179.7 L542.7 188.9 L538.2 198.0 L536.0 205.6 L536.0 207.5" fill="none" stroke="#1c1c1c" stroke-width="0.6" stroke-linejoin="round"/>
<path d="M536.0 207.5 L530.5 208.0 L522.9 205.6 L515.3 204.1 L512.2 205.6" fill="none" stroke="#1c1c1c" stroke-width="0.6" stroke-linejoin="round"/>
<path d="M536.0 207.5 L539.5 217.0 L543.6 219.0 L550.4 221.7 L557.1 224.4 L563.5 226.8" fill="none" stroke="#1c1c1c" stroke-width="0.6" stroke-linejoin="round"/>
<path d="M570.2 141.5 L568.0 130.0 L567.7 123.4 L570.4 112.6 L577.2 101.7 L586.7 89.5 L592.5 80.0" fill="none" stroke="#1c1c1c" stroke-width="0.6" stroke-linejoin="round"/>
<path d="M570.2 141.5 L576.3 146.1 L584.0 147.6 L591.6 150.7 L597.7 149.2 L605.3 152.2 L613.0 150.7 L622.0 148.0" fill="none" stroke="#1c1c1c" stroke-width="0.6" stroke-linejoin="round"/>
<path d="M607.8 51.8 L608.2 60.0 L607.5 70.0 L608.3 78.1 L612.0 84.2 L616.6 87.3 L615.1 93.4 L618.1 101.0 L622.7 108.6 L626.5 114.0" fill="none" stroke="#1c1c1c" stroke-width="0.6" stroke-linejoin="round"/>
<path d="M616.0 92.0 L625.8 85.8 L633.4 79.7 L641.0 76.6 L648.6 73.6 L654.7 70.5 L660.0 73.0" fill="none" stroke="#1c1c1c" stroke-width="0.6" stroke-linejoin="round"/>
<path d="M626.5 114.0 L633.4 116.3 L641.0 117.8 L648.6 116.3 L653.2 111.7 L656.3 108.6" fill="none" stroke="#1c1c1c" stroke-width="0.6" stroke-linejoin="round"/>
<path d="M626.5 114.0 L623.4 120.7 L620.7 126.2 L622.0 134.3 L621.5 145.2 L622.6 156.0 L624.0 159.2 L625.5 168.3 L619.4 172.9 L614.8 174.4" fill="none" stroke="#1c1c1c" stroke-width="0.6" stroke-linejoin="round"/>
<path d="M625.5 168.3 L633.1 171.4 L640.8 168.3 L648.4 165.3 L654.5 163.7 L659.0 163.7" fill="none" stroke="#1c1c1c" stroke-width="0.6" stroke-linejoin="round"/>
<path d="M614.8 174.4 L610.3 180.5 L608.7 189.7 L610.3 198.8 L608.7 208.0 L606.0 216.0 L603.2 221.3" fill="none" stroke="#1c1c1c" stroke-width="0.6" stroke-linejoin="round"/>
<path d="M588.1 236.4 L594.0 234.7 L600.8 233.0 L607.5 233.0 L610.0 239.0 L612.5 244.7" fill="none" stroke="#1c1c1c" stroke-width="0.6" stroke-linejoin="round"/>
<path d="M597.0 176.0 L608.5 176.0 L608.5 185.5 L597.0 185.5Z" fill="none" stroke="#222" stroke-width="0.5"/>
<path d="M624.2 47.9H630.2 M658 110.5H662.8 M479.4 234.8H484.8 M516.8 142.2L513.9 150.4" stroke="#333" stroke-width="0.6" fill="none"/>
<text x="640.4" y="60.7" font-size="8.6" text-anchor="middle" stroke="#fff" stroke-width="2" stroke-opacity="0.85" stroke-linejoin="round" paint-order="stroke">MA</text>
<text x="643.1" y="101.7" font-size="8.6" text-anchor="middle" stroke="#fff" stroke-width="2" stroke-opacity="0.85" stroke-linejoin="round" paint-order="stroke">PI</text>
<text x="597.2" y="125.6" font-size="8.6" text-anchor="middle" stroke="#fff" stroke-width="2" stroke-opacity="0.85" stroke-linejoin="round" paint-order="stroke">TO</text>
<text x="649.2" y="146.5" font-size="8.6" text-anchor="middle" stroke="#fff" stroke-width="2" stroke-opacity="0.85" stroke-linejoin="round" paint-order="stroke">BA</text>
<text x="518.2" y="173.4" font-size="8.6" text-anchor="middle" stroke="#fff" stroke-width="2" stroke-opacity="0.85" stroke-linejoin="round" paint-order="stroke">MT</text>
<text x="574.8" y="193.4" font-size="8.6" text-anchor="middle" stroke="#fff" stroke-width="2" stroke-opacity="0.85" stroke-linejoin="round" paint-order="stroke">GO</text>
<text x="603.7" y="182.3" font-size="8.6" text-anchor="middle" stroke="#fff" stroke-width="2" stroke-opacity="0.85" stroke-linejoin="round" paint-order="stroke">DF</text>
<text x="635.1" y="218.6" font-size="8.6" text-anchor="middle" stroke="#fff" stroke-width="2" stroke-opacity="0.85" stroke-linejoin="round" paint-order="stroke">MG</text>
<text x="531.6" y="242.9" font-size="8.6" text-anchor="middle" stroke="#fff" stroke-width="2" stroke-opacity="0.85" stroke-linejoin="round" paint-order="stroke">MS</text>
<text x="596" y="272.7" font-size="8.6" text-anchor="middle" stroke="#fff" stroke-width="2" stroke-opacity="0.85" stroke-linejoin="round" paint-order="stroke">SP</text>
<text x="605.7" y="50.8" font-size="9" textLength="17">5° S</text>
<text x="664.1" y="113.3" font-size="9">10° S</text>
<text x="454.9" y="238" font-size="9" textLength="20.4">20° S</text>
<text x="508.7" y="139.5" font-size="9" textLength="25">55° W</text>
<rect x="481" y="289.4" width="44.8" height="3.5" fill="#fff" stroke="#000" stroke-width="0.6"/><rect x="481" y="289.4" width="22.5" height="3.5" fill="#000"/>
<text x="478.2" y="285.6" font-size="9.2">0</text><text x="495.1" y="285.6" font-size="9.2" textLength="15.8">200</text><text x="518.2" y="285.6" font-size="9.2" textLength="31.8">400 km</text>
<circle cx="656.6" cy="269.3" r="25" fill="#000" fill-opacity="0.13" filter="url(#gshadow)"/>
<circle cx="656.4" cy="268.9" r="24" fill="#e7e7e7"/>
<clipPath id="gclip"><circle cx="656.4" cy="268.9" r="24"/></clipPath>
<g clip-path="url(#gclip)" stroke-linejoin="round">
<path d="M635.6 259.2 L638.1 252.5 L643.3 247.7 L650.1 245.3 L656.9 244.9 L654.3 248.6 L649.7 250.7 L646.6 253.4 L644.7 256.3 L646.2 258.5 L648.9 257.7 L650.5 259.6 L649.7 261.9 L647.4 260.4 L644.3 258.8 L640.4 259.6Z" fill="#c9c9c9"/>
<path d="M645.3 262.1 L650.1 260.8 L655.9 260.2 L661.7 263.1 L664.0 267.0 L662.8 271.2 L659.7 275.6 L656.9 277.6 L654.9 282.0 L653.2 286.6 L651.3 288.8 L649.7 286.3 L649.1 281.4 L647.8 276.6 L645.3 271.8 L643.9 267.0Z" fill="#c9c9c9"/>
<path d="M669.8 251.1 L675.6 255.4 L678.5 263.1 L677.7 271.2 L675.6 278.9 L674.0 276.6 L673.3 270.8 L670.6 267.0 L668.6 261.2 L668.6 255.4Z" fill="#c9c9c9"/>
<path d="M665.9 246.9 L670.6 249.6 L669.0 250.7 L665.9 249.2Z" fill="#c9c9c9"/>
<path d="M649.1 291.5 L655.9 290.1 L662.6 291.7 L659.7 294.0 L652.0 294.0Z" fill="#c9c9c9"/>
<path d="M648.2 264.4 L652.0 262.1 L656.9 262.7 L660.7 264.6 L663.8 267.0 L662.8 271.0 L659.9 274.9 L657.0 276.4 L655.5 277.8 L654.0 275.6 L654.2 272.4 L651.1 270.0 L647.6 267.9Z" fill="#8f8f8f"/>
<path d="M656.5 266.2 L660.7 265.0 L662.8 267.9 L661.9 271.8 L659.0 274.9 L657.0 273.9 L656.1 270.8 L654.0 268.9Z" fill="#4b4b4b"/>
</g>
</g>
<g id="labels"><text x="-0.4" y="11.2" font-size="16" text-anchor="start" font-weight="bold" stroke="#1a1a1a" stroke-width="0.4">a</text>
<text x="429.9" y="11.2" font-size="16" text-anchor="start" font-weight="bold" stroke="#1a1a1a" stroke-width="0.4">b</text>
<text x="151.8" y="22.5" font-size="9" textLength="205.8" lengthAdjust="spacing">Changes in land use and occupation (1985–2022)</text>
<text x="22.9" y="85.8" font-size="9" textLength="72.9" lengthAdjust="spacing">Natural formation</text>
<text x="18.6" y="96.7" font-size="9" textLength="77.2" lengthAdjust="spacing">(forest or savanna)</text>
<text x="40.7" y="157.8" font-size="9" textLength="55.1" lengthAdjust="spacing">Other natural</text>
<text x="50.8" y="168.5" font-size="9" textLength="45" lengthAdjust="spacing">formations</text>
<text x="61.7" y="217.5" font-size="9" textLength="34" lengthAdjust="spacing">Farming</text>
<text x="13.6" y="258" font-size="9" textLength="82.1" lengthAdjust="spacing">Non-vegetated area</text>
<text x="71.9" y="271.6" font-size="9" textLength="23.8" lengthAdjust="spacing">Water</text>
<text x="87.5" y="292.7" font-size="9.2" textLength="20.3" lengthAdjust="spacing">1985</text>
<text x="400.5" y="292.7" font-size="9.2" textLength="20.3" lengthAdjust="spacing">2022</text>
<line x1="432.6" x2="442.8" y1="19.6" y2="19.6" stroke="#111" stroke-width="0.8"/>
<text x="447.4" y="22.7" font-size="9" textLength="70.6" lengthAdjust="spacing">State boundaries</text>
<rect x="432.9" y="28.5" width="9.6" height="9.2" fill="#7dc67b"/>
<text x="447.4" y="36.2" font-size="9" textLength="72.6" lengthAdjust="spacing">Native vegetation</text>
<rect x="432.9" y="42" width="9.6" height="9.2" fill="#e4e4e4"/>
<text x="447.4" y="49.7" font-size="9" textLength="81.8" lengthAdjust="spacing">Non-vegetated area</text>
<rect x="432.9" y="55.5" width="9.6" height="9.2" fill="#c8f7c8"/>
<text x="447.4" y="63.2" font-size="9" textLength="102.6" lengthAdjust="spacing">Other natural formations</text>
<rect x="432.9" y="69" width="9.6" height="9.2" fill="#c89be6"/>
<text x="447.4" y="76.7" font-size="9" textLength="138.7" lengthAdjust="spacing">Other crops and forest plantation</text>
<rect x="432.9" y="82.5" width="9.6" height="9.2" fill="#ffffa5"/>
<text x="447.4" y="90.2" font-size="9" textLength="30.7" lengthAdjust="spacing">Pasture</text>
<rect x="432.9" y="96" width="9.6" height="9.2" fill="#e69500"/>
<text x="447.4" y="103.7" font-size="9" textLength="15.4" lengthAdjust="spacing">Soy</text>
<rect x="432.9" y="109.5" width="9.6" height="9.2" fill="#73d7fa"/>
<text x="447.4" y="117.2" font-size="9" textLength="24.1" lengthAdjust="spacing">Water</text></g>
</svg>
</body></html>
